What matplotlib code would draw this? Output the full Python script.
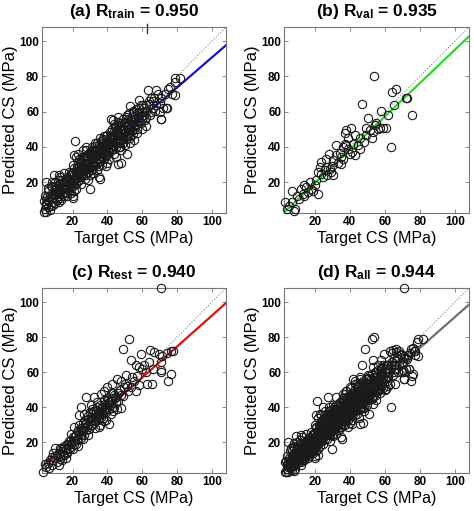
import matplotlib
matplotlib.use("Agg")
import matplotlib.pyplot as plt
from matplotlib.lines import Line2D
import numpy as np

plt.rcParams['font.family'] = ['Liberation Sans', 'DejaVu Sans']
plt.rcParams['mathtext.fontset'] = 'custom'
plt.rcParams['mathtext.bf'] = 'Liberation Sans:bold'
plt.rcParams['mathtext.rm'] = 'Liberation Sans'

# (target, predicted) pairs
train_pts = [
    (4, 5), (5, 8), (5, 3), (6, 10), (6, 6), (7, 12), (7, 4), (8, 9), (8, 14), (9, 7), (9, 11), (10, 13),
    (10, 8), (4, 12), (6, 15), (8, 17), (5, 20), (9.5, 23.8), (7.6, 18), (10, 16), (3.5, 3),
    (11, 10), (11, 14), (12, 12), (12, 16), (13, 11), (13, 15), (13, 19), (14, 13), (14, 17), (15, 12),
    (15, 16), (15, 20), (11, 18), (12, 9), (14, 21), (13, 23), (10, 20), (12, 24),
    (16, 14), (16, 18), (17, 16), (17, 20), (17, 23), (18, 15), (18, 19), (18, 22), (19, 17), (19, 21),
    (19, 25), (20, 18), (20, 22), (20, 11), (20, 12), (16, 22), (18, 26), (17, 12), (19, 14), (15, 25),
    (21, 20), (21, 24), (21, 28), (22, 22), (22, 26), (22, 19), (23, 24), (23, 28), (23, 31), (24, 21),
    (24, 25), (24, 29), (25, 23), (25, 27), (25, 31), (21, 35.6), (22, 34), (21.5, 43.6), (23, 36),
    (24, 33), (25, 19), (20, 30), (22, 16),
    (26, 25), (26, 29), (26, 33), (27, 27), (27, 31), (27, 35), (28, 24), (28, 28), (28, 32), (29, 26),
    (29, 30), (29, 34), (30, 28), (30, 32), (30, 36), (26, 38), (28, 38), (29, 21), (30, 16), (27, 22),
    (30, 24), (28, 40),
    (31, 27), (31, 31), (31, 35), (32, 29), (32, 33), (32, 37), (33, 30), (33, 34), (33, 38), (34, 31),
    (34, 35), (34, 39), (35, 33), (35, 37), (35, 41), (31, 40), (33, 42), (35, 23), (35.5, 22), (34, 27),
    (32, 25), (35, 29),
    (36, 32), (36, 36), (36, 40), (37, 34), (37, 38), (37, 42), (38, 33), (38, 37), (38, 41), (39, 35),
    (39, 39), (39, 43), (40, 36), (40, 40), (40, 44), (36, 45), (38, 46), (40, 31), (37, 30), (39, 29),
    (40, 47),
    (41, 37), (41, 41), (41, 45), (42, 38), (42, 42), (42, 46), (43, 39), (43, 43), (43, 47), (44, 41),
    (44, 45), (44, 49), (45, 40), (45, 44), (45, 48), (42, 56), (43, 55), (44, 53), (45, 34), (41, 33),
    (44, 36), (45, 52),
    (46, 42), (46, 46), (46, 54), (46, 30.4), (47, 43), (47, 47), (47.6, 31), (48, 44), (48, 48), (48, 52),
    (49, 45), (49, 49), (50, 46), (50, 50), (50, 54), (46, 57), (49, 56), (47, 40), (50, 41), (48, 38),
    (51, 36), (51, 47), (51, 51), (52, 48), (52, 52), (52, 56), (53, 46), (53, 50), (53, 63), (54, 49),
    (54, 53), (54, 57), (55, 50), (55, 54), (55, 60), (51, 58), (53, 42), (55, 44),
    (56, 52), (56, 56), (57, 53), (57, 59), (58, 55), (58, 62), (58, 66.7), (59, 64), (59, 57), (60, 56),
    (60, 60), (61, 58), (61, 62), (62, 57), (62, 64), (57, 48), (60, 50), (62, 52),
    (63, 72), (64, 66), (65, 60), (65, 68), (66, 62), (67, 68), (68, 64), (68, 72), (69, 70), (70, 65),
    (70, 60), (71, 56), (71, 68), (72, 62), (73, 70), (74, 62), (75, 73), (76, 74), (77, 70), (79, 69.5),
    (78.5, 77), (79, 79), (81.5, 79), (73.7, 62), (70.9, 56),
    (6.5, 9.3), (7.8, 6.2), (9.2, 13.5), (10.6, 11.2), (11.4, 15.8), (12.7, 13.9), (13.6, 9.8),
    (14.3, 18.7), (15.7, 14.6), (16.4, 20.3), (16.9, 17.1), (17.6, 21.8), (18.4, 17.6), (18.9, 24.1),
    (19.6, 19.4), (20.4, 25.7), (20.8, 14.9), (21.7, 22.6), (22.3, 29.4), (22.8, 24.7), (23.4, 20.8),
    (23.9, 26.3), (24.6, 31.8), (24.9, 27.2), (25.6, 24.6), (25.8, 34.2), (26.4, 30.7), (26.7, 27.3),
    (27.4, 32.9), (27.7, 25.4), (28.3, 34.7), (28.6, 29.8), (29.3, 36.4), (29.7, 31.6), (30.4, 27.1),
    (30.6, 33.8), (31.3, 38.2), (31.6, 29.2), (32.4, 35.6), (32.7, 40.4), (33.3, 32.1), (33.6, 36.9),
    (34.2, 42.3), (34.7, 33.4), (35.4, 39.2), (35.8, 35.1), (36.3, 43.1), (36.6, 38.3), (37.3, 35.7),
    (37.7, 44.6), (38.4, 39.8), (38.7, 35.4), (39.4, 46.2), (39.7, 41.5), (40.3, 37.6), (40.6, 42.8),
    (41.4, 48.3), (41.7, 39.4), (42.3, 44.1), (42.7, 50.2), (43.4, 41.2), (43.7, 46.3), (44.3, 51.4),
    (44.6, 43.5), (45.3, 49.8), (45.7, 45.1), (46.4, 51.3), (46.7, 39.7), (47.3, 53.6), (47.7, 45.9),
    (48.4, 50.3), (48.7, 42.1), (49.3, 53.8), (49.7, 47.6), (50.4, 56.7), (50.7, 44.2), (51.4, 53.1),
    (51.7, 49.4), (52.4, 59.2), (52.7, 45.3), (53.3, 55.4), (53.7, 51.6), (54.4, 60.3), (54.7, 47.2),
    (55.4, 57.3), (56.3, 61.4), (56.7, 50.3), (57.6, 56.2), (58.4, 59.6), (59.3, 53.7), (60.4, 63.8),
    (61.3, 55.2), (62.4, 60.1), (63.6, 64.2), (64.7, 58.3), (66.2, 66.1), (67.4, 60.2), (4.7, 7.2),
    (5.6, 11.3), (3.9, 9.1), (8.4, 19.8), (6.2, 16.7), (9.8, 17.9), (11.8, 21.3),
]

val_pts = [
    (54, 80), (66.3, 73), (64.2, 71), (71.8, 68), (72.8, 67.6), (65, 63.8), (75.6, 58), (47.2, 64.2),
    (58, 60.6), (50.6, 56.2), (63.5, 40), (54.9, 53.3), (57.1, 50.5), (59, 50.9), (60.6, 50.5),
    (53.5, 48.6), (56, 49.9), (49, 50.5), (51.7, 49.5), (52.8, 44.8), (48, 43), (40.6, 50.9),
    (38.1, 49.5), (42.9, 47), (39, 44.8), (37.1, 41.9), (36.2, 40), (32.4, 41), (44.8, 41), (45.7, 39),
    (42.9, 35.6), (41, 37.1), (32.4, 35.2), (36.2, 33.3), (35.2, 30.5), (30.5, 32.4), (28.2, 36.2),
    (26.3, 33.3), (23.8, 31.4), (22.9, 28.6), (21.9, 25.7), (26.7, 28.6), (28.6, 27.6), (30.5, 23.8),
    (29.5, 25.7), (17.1, 20), (15.2, 17.1), (12.4, 16.2), (13.3, 13.3), (16.2, 14.3), (20, 18.1),
    (21.9, 13), (7.1, 15.2), (10, 12.4), (11, 10.5), (7.1, 8.6), (5.2, 6.7), (3.3, 8.6), (9, 4.8),
    (38.1, 41), (34.3, 36.8), (39, 39), (41.9, 41.9), (45.7, 44.8), (49.5, 46.7), (54.3, 52.4),
    (37.1, 47.6), (25.7, 26.7), (24.8, 22.9), (21, 21), (19, 15.2), (13.7, 18.1), (23.8, 24.8),
    (4, 5), (8, 3.5), (14, 12), (18, 16), (33, 31), (35, 34), (40, 36), (30, 29), (27, 24), (62, 58),
]

test_pts = [
    (71, 108), (52.6, 79), (48.8, 73.3), (59.4, 70.5), (64.6, 72.4), (66.5, 71.4), (69.3, 70.5),
    (71.2, 69.5), (74.1, 70.9), (76.6, 72.2), (77.4, 71.8), (53.3, 66.7), (56.2, 63.8), (58.1, 62.8),
    (61, 63.8), (63.8, 65.7), (66.1, 61.9), (70.5, 61), (71, 60), (76.2, 58.7), (74.9, 55.2),
    (65.7, 53.3), (62.9, 53.3), (70.5, 65.7), (50.4, 58.1), (54.3, 57.1), (47.6, 55.2), (45.7, 56.2),
    (49.5, 51.4), (58.1, 52.4), (56.2, 49.5), (27.6, 46.1), (43.8, 40), (45.7, 39), (48, 39.6),
    (41.9, 36.2), (44.8, 42.9), (41, 42.9), (41, 30.5), (38.1, 32.4), (36.2, 34.3), (35.2, 28.6),
    (24.8, 40), (26.7, 36.2), (23.8, 35.6), (32.4, 45.7), (36.2, 47.6), (40, 51.4), (42.9, 53.3),
    (38.1, 49.5), (34.3, 42.9), (30.5, 41),
    (3, 3), (5, 6), (6, 8), (8, 7), (9, 10), (10, 12), (11, 9), (12, 14), (13, 12), (13, 17), (14, 15),
    (15, 13), (15, 18), (16, 16), (17, 14), (17, 19), (18, 17), (18, 21), (19, 19), (20, 23), (20, 16),
    (21, 21), (22, 24), (22, 19), (23, 22), (23, 27), (24, 25), (24, 30), (25, 24), (25, 28), (26, 27),
    (26, 31), (27, 29), (27, 33), (28, 27), (28, 31), (29, 30), (29, 35), (30, 32), (30, 37), (31, 30),
    (31, 34), (32, 33), (32, 38), (33, 32), (33, 36), (34, 35), (34, 40), (35, 34), (35, 38), (36, 37),
    (36, 41), (37, 36), (37, 40), (38, 39), (38, 44), (39, 37), (39, 41), (40, 40), (40, 45), (41, 39),
    (42, 44), (42, 48), (43, 45), (44, 47), (45, 46), (46, 48), (47, 50), (48, 47), (50, 53), (52, 49),
    (55, 55), (57, 58), (60, 62), (62, 60), (10, 17), (12, 7), (16, 11), (19, 25), (21, 29), (26, 22),
    (29, 24), (33, 28), (36, 30), (39, 33), (43, 38), (9, 14), (7, 10), (14, 10), (23, 18), (31, 39),
    (11.3, 12.6), (12.6, 10.4), (13.4, 15.9), (14.6, 13.2), (15.3, 16.8), (16.6, 14.7), (17.3, 18.2),
    (18.6, 15.9), (19.4, 21.3), (20.6, 19.2), (21.4, 23.6), (22.6, 21.1), (23.4, 25.8), (24.6, 22.7),
    (25.4, 26.9), (26.6, 24.3), (27.4, 30.2), (28.6, 33.5), (29.4, 27.8), (30.6, 30.1), (31.4, 36.2),
    (32.6, 30.8), (33.4, 37.9), (34.6, 32.7), (35.4, 36.3), (36.6, 39.5), (37.4, 33.8), (38.6, 42.1),
    (39.4, 38.6), (40.6, 43.9), (41.4, 41.2), (42.6, 39.7), (43.4, 48.2), (44.6, 45.1), (46.3, 43.6),
    (47.4, 49.7), (49.2, 46.5), (51.3, 52.3), (53.6, 51.8), (8.3, 11.6), (6.7, 5.2), (4.4, 7.8),
]

titles = [r'(a) $\mathbf{R_{train}}$ = 0.950', r'(b) $\mathbf{R_{val}}$ = 0.935',
          r'(c) $\mathbf{R_{test}}$ = 0.940', r'(d) $\mathbf{R_{all}}$ = 0.944']
fit_slope = [0.855, 0.946, 0.885, 0.88]
fit_icept = [5.3, 0.5, 3.85, 3.5]
line_colors = ['#1515c8', '#22dd22', '#e01010', '#707070']
ticks = [20, 40, 60, 80, 100]

all_pts = train_pts + val_pts + test_pts
sets = [train_pts, val_pts, test_pts, all_pts]

fig = plt.figure(figsize=(4.74, 5.11), dpi=100)
positions = [[0.0886, 0.5832, 0.3882, 0.364], [0.5992, 0.5832, 0.3903, 0.364],
             [0.0886, 0.0744, 0.3882, 0.362], [0.5992, 0.0744, 0.3903, 0.362]]

lim = (2.5, 108)
xx = np.array(lim)
for i in range(4):
    ax = fig.add_axes(positions[i])
    pts = np.array(sets[i])
    ax.plot(xx, xx, linestyle=':', color='#888888', lw=0.8, zorder=1)
    ax.plot(xx, fit_slope[i] * xx + fit_icept[i], color=line_colors[i], lw=1.6, zorder=2)
    ax.plot(pts[:, 0], pts[:, 1], 'o', mfc='none', mec='#1a1a1a', ms=6, mew=0.8, zorder=3,
            clip_on=False)
    ax.set_xlim(lim)
    ax.set_ylim(lim)
    ax.set_xticks(ticks)
    ax.set_yticks(ticks)
    ax.tick_params(direction='in', top=True, right=True, length=3, width=0.6, color='#777777',
                   labelsize=8.5, pad=2)
    for lab in ax.get_xticklabels() + ax.get_yticklabels():
        lab.set_fontweight('bold')
    for sp in ax.spines.values():
        sp.set_color('#777777')
        sp.set_linewidth(0.8)
    ax.set_xlabel('Target CS (MPa)', fontsize=11.5, labelpad=2)
    ax.set_ylabel('Predicted CS (MPa)', fontsize=12, labelpad=1)
    ax.set_title(titles[i], fontsize=12.5, fontweight='bold', pad=8)

fig.add_artist(Line2D([147 / 474, 147 / 474], [1 - 24 / 511, 1 - 33 / 511], color='#333333', lw=1))

fig.savefig('out.png', dpi=100)
